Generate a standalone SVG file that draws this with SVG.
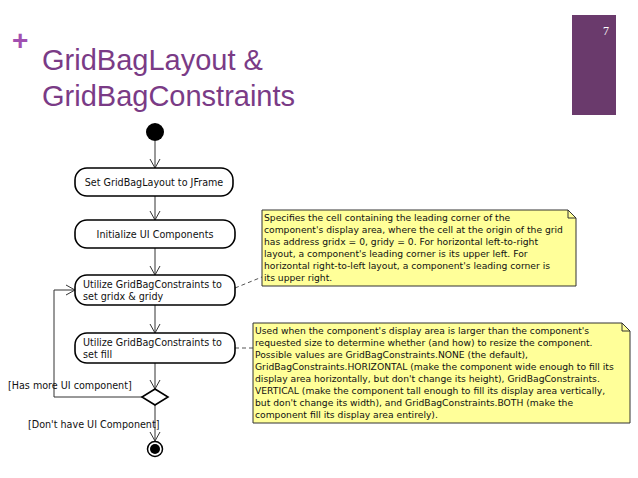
<svg xmlns="http://www.w3.org/2000/svg" width="638" height="478" viewBox="0 0 638 478">
<style>
.t{font-family:"DejaVu Sans",sans-serif;font-size:9.6px;fill:#111}
.n{font-family:"DejaVu Sans",sans-serif;font-size:9.2px;fill:#111}
.box{fill:#fff;stroke:#000;stroke-width:1.6}
.note{fill:#ffff99;stroke:#333;stroke-width:1}
.c{fill:none;stroke:#333;stroke-width:1}
.d{fill:none;stroke:#555;stroke-width:1;stroke-dasharray:4,3}
.h{font-family:"Liberation Sans",sans-serif;font-size:29px;fill:#7a3b86}
</style>
<defs><marker id="a" markerWidth="12" markerHeight="12" refX="10" refY="6" orient="auto" markerUnits="userSpaceOnUse"><path d="M1,1 L10,6 L1,11" fill="none" stroke="#333" stroke-width="1"/></marker></defs>
<rect width="638" height="478" fill="#fff"/>
<text x="12" y="50" style="font-family:'Liberation Sans',sans-serif;font-size:28px;font-weight:bold;fill:#a14fb0">+</text>
<text class="h" x="42" y="70">GridBagLayout &amp;</text>
<text class="h" x="42" y="106">GridBagConstraints</text>
<rect x="572" y="15" width="44" height="100" fill="#6a3a6c"/>
<text x="606" y="35" text-anchor="middle" style="font-family:'Liberation Serif',serif;font-size:12px;fill:#fff">7</text>
<g id="connectors">
<line class="c" x1="155" y1="141" x2="155" y2="168" marker-end="url(#a)"/>
<line class="c" x1="155" y1="196" x2="155" y2="220" marker-end="url(#a)"/>
<line class="c" x1="155" y1="248" x2="155" y2="275" marker-end="url(#a)"/>
<line class="c" x1="155" y1="305" x2="155" y2="333" marker-end="url(#a)"/>
<line class="c" x1="155" y1="363" x2="155" y2="389" marker-end="url(#a)"/>
<line class="c" x1="155" y1="405" x2="155" y2="441" marker-end="url(#a)"/>
<polyline class="c" points="142,397 54,397 54,290 75,290" marker-end="url(#a)"/>
<line class="d" x1="235" y1="288" x2="262" y2="277"/>
<line class="d" x1="235" y1="348" x2="253" y2="348"/>
<text class="t" x="8" y="389">[Has more UI component]</text>
<text class="t" x="28" y="428">[Don't have UI Component]</text>
</g>
<g id="start"><circle cx="155" cy="132" r="9" fill="#000"/></g>
<g id="n1"><rect class="box" x="75" y="168" width="158" height="28" rx="12"/><text class="t" x="154" y="186" text-anchor="middle">Set GridBagLayout to JFrame</text></g>
<g id="n2"><rect class="box" x="75" y="220" width="160" height="28" rx="12"/><text class="t" x="155" y="238" text-anchor="middle">Initialize UI Components</text></g>
<g id="n3"><rect class="box" x="75" y="275" width="160" height="30" rx="12"/><text class="t" x="83" y="288">Utilize GridBagConstraints to</text><text class="t" x="83" y="300">set gridx &amp; gridy</text></g>
<g id="n4"><rect class="box" x="75" y="333" width="160" height="30" rx="12"/><text class="t" x="83" y="346">Utilize GridBagConstraints to</text><text class="t" x="83" y="358">set fill</text></g>
<g id="decision"><polygon points="155,389 168,397 155,405 142,397" fill="#fff" stroke="#000" stroke-width="1.6"/></g>
<g id="end"><circle cx="155" cy="449" r="7.5" fill="#fff" stroke="#000" stroke-width="1.5"/><circle cx="155" cy="449" r="5" fill="#000"/></g>
<g id="note1"><path class="note" d="M262,210 H568 L576,218 V286 H262 Z"/><path class="c" d="M568,210 V218 H576"/>
<text class="n" x="264" y="221">Specifies the cell containing the leading corner of the</text>
<text class="n" x="264" y="233">component's display area, where the cell at the origin of the grid</text>
<text class="n" x="264" y="245">has address gridx = 0, gridy = 0. For horizontal left-to-right</text>
<text class="n" x="264" y="257">layout, a component's leading corner is its upper left. For</text>
<text class="n" x="264" y="269">horizontal right-to-left layout, a component's leading corner is</text>
<text class="n" x="264" y="281">its upper right.</text></g>
<g id="note2"><path class="note" d="M253,323 H622 L630,331 V423 H253 Z"/><path class="c" d="M622,323 V331 H630"/>
<text class="n" x="255" y="334">Used when the component's display area is larger than the component's</text>
<text class="n" x="255" y="346">requested size to determine whether (and how) to resize the component.</text>
<text class="n" x="255" y="358">Possible values are GridBagConstraints.NONE (the default),</text>
<text class="n" x="255" y="370">GridBagConstraints.HORIZONTAL  (make the component wide enough to fill its</text>
<text class="n" x="255" y="382">display area horizontally, but don't change its height), GridBagConstraints.</text>
<text class="n" x="255" y="394">VERTICAL  (make the component tall enough to fill its display area vertically,</text>
<text class="n" x="255" y="406">but don't change its width), and GridBagConstraints.BOTH  (make the</text>
<text class="n" x="255" y="418">component fill its display area entirely).</text></g>
</svg>
